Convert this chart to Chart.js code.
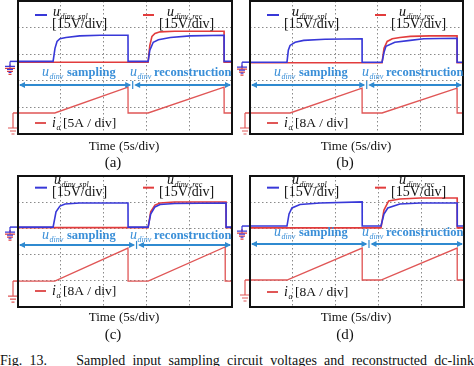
<!DOCTYPE html>
<html>
<head>
<meta charset="utf-8">
<script src="https://cdn.jsdelivr.net/npm/chart.js@4/dist/chart.umd.min.js"></script>
<style>
html, body { margin: 0; padding: 0; background: #fff; width: 474px; height: 366px; overflow: hidden; position: relative; }
canvas { position: absolute; }
#cap { position: absolute; left: 0; top: 354px; width: 474px; font: 14px "Liberation Serif", serif; line-height: 14px;
       white-space: nowrap; text-align: justify; text-align-last: justify; color: #111; }
</style>
</head>
<body>
<main></main>
<div id="cap">Fig. 13.&nbsp;&nbsp;&nbsp; Sampled input sampling circuit voltages and reconstructed dc-link</div>
<script>
// values in scope divisions, time in seconds (5 s/div)
const splA = [[0,2.73],[4.1,2.73],[4.32,3.22],[4.56,3.48],[4.9,3.58],[5.6,3.63],[7.2,3.69],[9.6,3.71],[12.85,3.71],[12.86,2.73],[15.2,2.73],[15.4,3.15],[15.8,3.45],[16.4,3.54],[17.8,3.63],[20.1,3.69],[24.07,3.71],[24.08,2.73],[25,2.73]];
const recA = [[0,2.70],[15.2,2.70],[15.4,3.33],[15.65,3.67],[16.0,3.78],[16.6,3.84],[18.3,3.86],[24.07,3.86],[24.08,2.70],[25,2.70]];
const curA = [[0,0.79],[4.3,0.79],[12.85,1.76],[12.86,0.79],[15.2,0.79],[24.07,1.76],[24.08,0.79],[25,0.79]];

const splB = [[0,2.70],[4.34,2.70],[4.5,3.15],[4.7,3.33],[5.3,3.45],[6.3,3.52],[8.8,3.56],[13.15,3.58],[13.16,2.70],[15.5,2.70],[15.73,3.07],[15.96,3.30],[17.0,3.45],[18.8,3.52],[20.4,3.58],[24.3,3.60],[24.31,2.70],[25,2.70]];
const recB = [[0,2.68],[15.5,2.68],[15.73,3.22],[16.1,3.48],[16.7,3.58],[17.6,3.63],[18.8,3.67],[21.1,3.69],[24.3,3.69],[24.31,2.68],[25,2.68]];
const curB = [[0,0.79],[4.7,0.79],[13.15,1.72],[13.16,0.79],[15.5,0.79],[24.3,1.72],[24.31,0.79],[25,0.79]];

const splC = [[0,3.05],[4.1,3.05],[4.44,3.63],[4.9,3.85],[5.5,3.93],[7.2,3.97],[12.85,3.97],[12.86,3.05],[15.2,3.05],[15.5,3.55],[16.0,3.82],[16.6,3.91],[18.3,3.95],[24.3,3.97],[24.31,3.05],[25,3.05]];
const recC = [[0,3.03],[15.2,3.03],[15.5,3.63],[16.0,3.89],[16.6,3.97],[18.3,4.01],[24.3,4.01],[24.31,3.03],[25,3.03]];
const curC = [[0,0.99],[4.3,0.99],[12.85,2.25],[12.86,0.99],[15.2,0.99],[24.2,2.29],[24.21,0.99],[25,0.99]];

const splD = [[0,3.09],[4.32,3.09],[4.56,3.55],[4.9,3.78],[5.84,3.91],[8.2,3.97],[13.1,4.01],[13.11,3.09],[15.3,3.09],[15.65,3.55],[16.1,3.78],[17.5,3.93],[19.9,3.97],[24.2,3.97],[24.21,3.09],[25,3.09]];
const recD = [[0,3.02],[15.3,3.02],[15.65,3.70],[16.2,4.05],[17.5,4.12],[19.9,4.16],[24.2,4.16],[24.21,3.02],[25,3.02]];
const curD = [[0,1.03],[4.32,1.03],[13.1,2.25],[13.11,1.03],[15.3,1.03],[24.2,2.25],[24.21,1.03],[25,1.03]];

const panelTags = ['(a)', '(b)', '(c)', '(d)'];
const currentScales = ['[5A / div]', '[8A / div]', '[8A / div]', '[8A / div]'];
const voltScale = '[15V/div]';
const timeLabel = 'Time (5s/div)';
const arrowLevels = [1.84, 1.84, 2.37, 2.40];
const splitTimes = [13.4, 13.7, 13.85, 13.9];

const BLUE = '#3838d8', RED = '#e23c3c', CUR = '#e05656', ARROW = '#2f8ad0', LBL = '#3a8fd8';
const SERIF = '"Liberation Serif", "Times New Roman", serif';

const panels = [
  {left: 0,   top: 0,   pad: {left: 18, right: 5,  top: 1, bottom: 41}, legUp: 0, curUp: 0, armGap: 9, timeDy: 16, tagDy: 33, uSpl: 35, spl: splA, rec: recA, cur: curA},
  {left: 237, top: 0,   pad: {left: 13, right: 11, top: 1, bottom: 41}, legUp: 0, curUp: 0, armGap: 9, timeDy: 16, tagDy: 33, uSpl: 42, spl: splB, rec: recB, cur: curB},
  {left: 0,   top: 175, pad: {left: 18, right: 5,  top: 1, bottom: 43}, legUp: 7, curUp: 5, armGap: 6, timeDy: 14, tagDy: 32, uSpl: 36, spl: splC, rec: recC, cur: curC},
  {left: 237, top: 175, pad: {left: 13, right: 10, top: 1, bottom: 43}, legUp: 7, curUp: 4, armGap: 8, timeDy: 14, tagDy: 32, uSpl: 42, spl: splD, rec: recD, cur: curD}
];

function subText(ctx, x, y, main, sub, size, color) {
  ctx.fillStyle = color;
  ctx.font = 'italic ' + size + 'px ' + SERIF;
  ctx.fillText(main, x, y);
  let w = ctx.measureText(main).width;
  ctx.font = 'italic ' + Math.round(size * 0.58) + 'px ' + SERIF;
  ctx.fillText(sub, x + w + 0.5, y + size * 0.22);
  return x + w + 0.5 + ctx.measureText(sub).width;
}

function ground(ctx, x, y0, len, color) {
  ctx.strokeStyle = color;
  ctx.lineWidth = 1.2;
  ctx.beginPath();
  ctx.moveTo(x, y0); ctx.lineTo(x, y0 + len);
  ctx.moveTo(x - 5, y0 + len); ctx.lineTo(x + 5, y0 + len);
  ctx.moveTo(x - 3, y0 + len + 3); ctx.lineTo(x + 3, y0 + len + 3);
  ctx.moveTo(x - 1.5, y0 + len + 6); ctx.lineTo(x + 1.5, y0 + len + 6);
  ctx.stroke();
}

function head(ctx, x, y, dir) {
  ctx.beginPath();
  ctx.moveTo(x, y);
  ctx.lineTo(x - dir * 6, y - 3);
  ctx.lineTo(x - dir * 6, y + 3);
  ctx.closePath();
  ctx.fill();
}

function makeDeco(p, i) {
  return {
    id: 'deco' + i,
    afterDraw(chart) {
      const {ctx, chartArea: a, scales: {x, y}} = chart;
      const L = a.left, R = a.right, T = a.top, B = a.bottom;
      ctx.save();
      ctx.textBaseline = 'alphabetic';

      // ground markers
      const vb = y.getPixelForValue(p.spl[0][1]);
      ctx.strokeStyle = BLUE; ctx.lineWidth = 1.5;
      ctx.beginPath(); ctx.moveTo(L - 8, vb); ctx.lineTo(L, vb); ctx.stroke();
      ground(ctx, L - 8, vb + 3, 4, RED);
      ground(ctx, L - 8, vb, 5, BLUE);
      const cb = y.getPixelForValue(p.cur[0][1]);
      ctx.strokeStyle = CUR; ctx.lineWidth = 1.5;
      ctx.beginPath(); ctx.moveTo(L - 5, cb); ctx.lineTo(L, cb); ctx.stroke();
      ground(ctx, L - 5, cb, 15, CUR);

      // box
      ctx.strokeStyle = '#111'; ctx.lineWidth = 2;
      ctx.strokeRect(L, T, R - L, B - T);

      // double arrows
      const ay = y.getPixelForValue(arrowLevels[i]);
      const sx = x.getPixelForValue(splitTimes[i]);
      ctx.strokeStyle = ARROW; ctx.fillStyle = ARROW; ctx.lineWidth = 2;
      ctx.beginPath();
      ctx.moveTo(L + 2, ay); ctx.lineTo(sx - 3, ay);
      ctx.moveTo(sx + 3, ay); ctx.lineTo(R - 2, ay);
      ctx.stroke();
      ctx.lineWidth = 1.2;
      ctx.beginPath(); ctx.moveTo(sx, ay - 4); ctx.lineTo(sx, ay + 4); ctx.stroke();
      head(ctx, L + 1, ay, -1);
      head(ctx, sx - 1.5, ay, 1);
      head(ctx, sx + 1.5, ay, -1);
      head(ctx, R - 1, ay, 1);

      // labels above the arrow
      const ly = ay - p.armGap;
      subText(ctx, L + 24, ly, 'u', 'dinv', 14, LBL);
      ctx.font = 'bold 12.5px ' + SERIF;
      ctx.fillText('sampling', L + 49, ly);
      subText(ctx, L + 112, ly, 'u', 'dinv', 14, LBL);
      ctx.font = 'bold 12.5px ' + SERIF;
      ctx.fillText('reconstruction', L + 136, ly);

      // voltage legends
      const lu = p.legUp;
      ctx.lineWidth = 2;
      ctx.strokeStyle = BLUE;
      ctx.beginPath(); ctx.moveTo(L + 17, T + 14 - lu / 3); ctx.lineTo(L + 29, T + 14 - lu / 3); ctx.stroke();
      ctx.strokeStyle = RED;
      ctx.beginPath(); ctx.moveTo(L + 125, T + 14 - lu / 3); ctx.lineTo(L + 136, T + 14 - lu / 3); ctx.stroke();
      subText(ctx, L + p.uSpl, T + 15 - lu, 'u', 'dinv_spl', 14, '#111');
      subText(ctx, L + 149, T + 15 - lu, 'u', 'dinv_rec', 14, '#111');
      ctx.fillStyle = '#111';
      ctx.font = '14px ' + SERIF;
      ctx.fillText(voltScale, L + 34, T + 27 - lu);
      ctx.fillText(voltScale, L + 141, T + 27 - lu);

      // current legend
      const cu = p.curUp;
      ctx.strokeStyle = CUR; ctx.lineWidth = 2;
      ctx.beginPath(); ctx.moveTo(L + 17, B - 11 - cu); ctx.lineTo(L + 28, B - 11 - cu); ctx.stroke();
      subText(ctx, L + 34, B - 7 - cu, 'i', 'a', 14, '#111');
      ctx.fillStyle = '#111';
      ctx.font = '13.5px ' + SERIF;
      ctx.fillText(currentScales[i], L + 45, B - 7 - cu);

      // footer
      ctx.textAlign = 'center';
      ctx.font = '13px ' + SERIF;
      ctx.fillText(timeLabel, L + 106, B + p.timeDy);
      ctx.font = '15px ' + SERIF;
      ctx.fillText(panelTags[i], L + 95, B + p.tagDy);
      ctx.restore();
    }
  };
}

const gridColor = c => (c.tick.value <= c.scale.min || c.tick.value >= c.scale.max) ? 'rgba(0,0,0,0)' : '#8a8a8a';

panels.forEach((p, i) => {
  let canvas = document.createElement('canvas');
  canvas.width = 237;
  canvas.height = 175;
  canvas.style.left = p.left + 'px';
  canvas.style.top = p.top + 'px';
  document.body.querySelector('main').appendChild(canvas);

  const line = (pts, color, w) => ({
    data: pts.map(([t, v]) => ({x: t, y: v})),
    borderColor: color, borderWidth: w, pointRadius: 0, tension: 0, fill: false
  });

  new Chart(canvas, {
    type: 'line',
    data: {
      datasets: [line(p.spl, BLUE, 1.6), line(p.rec, RED, 1.6), line(p.cur, CUR, 1.3)]
    },
    options: {
      responsive: false,
      animation: false,
      layout: {padding: p.pad},
      plugins: {legend: {display: false}, tooltip: {enabled: false}},
      scales: {
        x: {type: 'linear', min: 0, max: 25,
            ticks: {display: false, stepSize: 5},
            grid: {drawTicks: false, color: gridColor, lineWidth: 1},
            border: {display: false, dash: [1.5, 2.5]}},
        y: {type: 'linear', min: 0, max: 5,
            ticks: {display: false, stepSize: 1},
            grid: {drawTicks: false, color: gridColor, lineWidth: 1},
            border: {display: false, dash: [1.5, 2.5]}}
      }
    },
    plugins: [makeDeco(p, i)]
  });
});
</script>
</body>
</html>
